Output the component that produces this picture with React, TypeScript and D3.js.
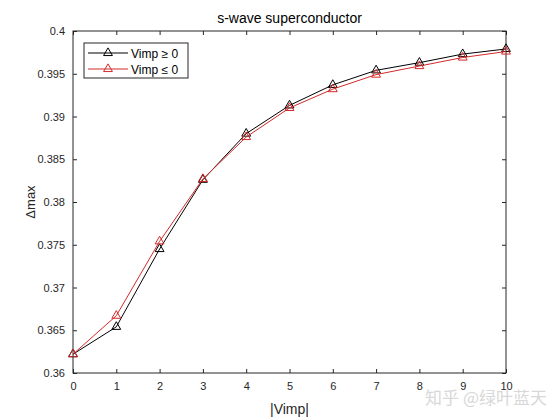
import * as d3 from "d3";
import React, { useRef, useEffect } from "react";

const vimp = [0, 1, 2, 3, 4, 5, 6, 7, 8, 9, 10];
const deltaPos = [0.3622, 0.3654, 0.3745, 0.3826, 0.388, 0.3913, 0.3937, 0.3954, 0.3963, 0.3973, 0.3979];
const deltaNeg = [0.3622, 0.3667, 0.3754, 0.3827, 0.3876, 0.391, 0.3932, 0.3949, 0.3959, 0.3969, 0.3976];
const yTicks = [0.36, 0.365, 0.37, 0.375, 0.38, 0.385, 0.39, 0.395, 0.4];
const seriesNames = ["Vimp \u2265 0", "Vimp \u2264 0"];
const seriesColors = ["#000000", "#d42a2a"];

function App() {
    const ref = useRef(null);

    const width = 560;
    const height = 420;
    const margin = { top: 31, right: 54, bottom: 47, left: 73 };
    const chartWidth = width - margin.left - margin.right;
    const chartHeight = height - margin.top - margin.bottom;

    useEffect(() => {
        document.body.style.margin = "0";
        draw();
    }, []);

    const draw = () => {
        const svg = d3.select(ref.current);
        svg.selectAll("*").remove();
        const font = "'Liberation Sans', Arial, sans-serif";

        svg.append("rect").attr("width", width).attr("height", height).attr("fill", "white");

        const x = d3.scaleLinear().domain([0, 10]).range([0, chartWidth]);
        const y = d3.scaleLinear().domain([0.36, 0.4]).range([chartHeight, 0]);

        const chart = svg
            .append("g")
            .attr("transform", `translate(${margin.left}, ${margin.top})`);

        // axes, ticks pointing inward like matlab
        const styleAxis = (g) => {
            g.select(".domain").remove();
            g.selectAll("line").attr("stroke", "#262626");
            g.selectAll("text")
                .attr("fill", "#262626")
                .style("font-family", font)
                .style("font-size", "11px");
        };
        chart.append("g")
            .attr("transform", `translate(0, ${chartHeight})`)
            .call(d3.axisBottom(x).tickValues(vimp).tickFormat(d3.format("d")).tickSizeInner(-4).tickPadding(9))
            .call(styleAxis);
        chart.append("g")
            .call(d3.axisTop(x).tickValues(vimp).tickFormat(() => "").tickSizeInner(-4))
            .call(styleAxis);
        chart.append("g")
            .call(d3.axisLeft(y).tickValues(yTicks).tickFormat((d) => String(+d.toFixed(3))).tickSizeInner(-4).tickPadding(8))
            .call(styleAxis);
        chart.append("g")
            .attr("transform", `translate(${chartWidth}, 0)`)
            .call(d3.axisRight(y).tickValues(yTicks).tickFormat(() => "").tickSizeInner(-4))
            .call(styleAxis);

        chart.append("rect")
            .attr("width", chartWidth)
            .attr("height", chartHeight)
            .attr("fill", "none")
            .attr("stroke", "#262626")
            .attr("stroke-width", 1);

        const triangle = d3.symbol().type(d3.symbolTriangle).size(34);
        const line = d3
            .line()
            .x((d, i) => x(vimp[i]))
            .y((d) => y(d));

        [deltaPos, deltaNeg].forEach((vals, s) => {
            chart.append("path")
                .attr("d", line(vals))
                .attr("fill", "none")
                .attr("stroke", seriesColors[s])
                .attr("stroke-width", 1);
            chart.selectAll(`.m${s}`)
                .data(vals)
                .enter()
                .append("path")
                .attr("class", `m${s}`)
                .attr("d", triangle)
                .attr("transform", (d, i) => `translate(${x(vimp[i])}, ${y(d)})`)
                .attr("fill", "none")
                .attr("stroke", seriesColors[s])
                .attr("stroke-width", 1);
        });

        // legend
        const legend = svg.append("g").attr("transform", "translate(84, 43)");
        legend.append("rect")
            .attr("width", 104)
            .attr("height", 35)
            .attr("fill", "white")
            .attr("stroke", "#262626");
        seriesNames.forEach((name, s) => {
            const ly = 10 + s * 16;
            legend.append("line")
                .attr("x1", 4).attr("x2", 44)
                .attr("y1", ly).attr("y2", ly)
                .attr("stroke", seriesColors[s]);
            legend.append("path")
                .attr("d", triangle)
                .attr("transform", `translate(24, ${ly})`)
                .attr("fill", "none")
                .attr("stroke", seriesColors[s]);
            legend.append("text")
                .attr("x", 47)
                .attr("y", ly + 4.5)
                .attr("fill", "#000")
                .style("font-family", font)
                .style("font-size", "12px")
                .text(name);
        });

        svg.append("text")
            .attr("x", margin.left + chartWidth / 2)
            .attr("y", 23)
            .attr("text-anchor", "middle")
            .attr("fill", "#000")
            .style("font-family", font)
            .style("font-size", "14px")
            .text("s-wave superconductor");

        svg.append("text")
            .attr("x", margin.left + chartWidth / 2)
            .attr("y", 414)
            .attr("text-anchor", "middle")
            .attr("fill", "#262626")
            .style("font-family", font)
            .style("font-size", "14px")
            .text("|Vimp|");

        svg.append("text")
            .attr("transform", `translate(35, ${margin.top + chartHeight / 2}) rotate(-90)`)
            .attr("text-anchor", "middle")
            .attr("fill", "#262626")
            .style("font-family", font)
            .style("font-size", "13px")
            .text("\u0394max");

        // watermark
        svg.append("text")
            .attr("x", 547)
            .attr("y", 404)
            .attr("text-anchor", "end")
            .attr("fill", "#d8d8d8")
            .style("font-family", "'Noto Sans CJK SC', sans-serif")
            .style("font-size", "17px")
            .text("知乎 @绿叶蓝天");
    };

    return (
        <div>
            <svg ref={ref} width={width} height={height} style={{ display: "block" }}></svg>
        </div>
    );
}

export default App;
